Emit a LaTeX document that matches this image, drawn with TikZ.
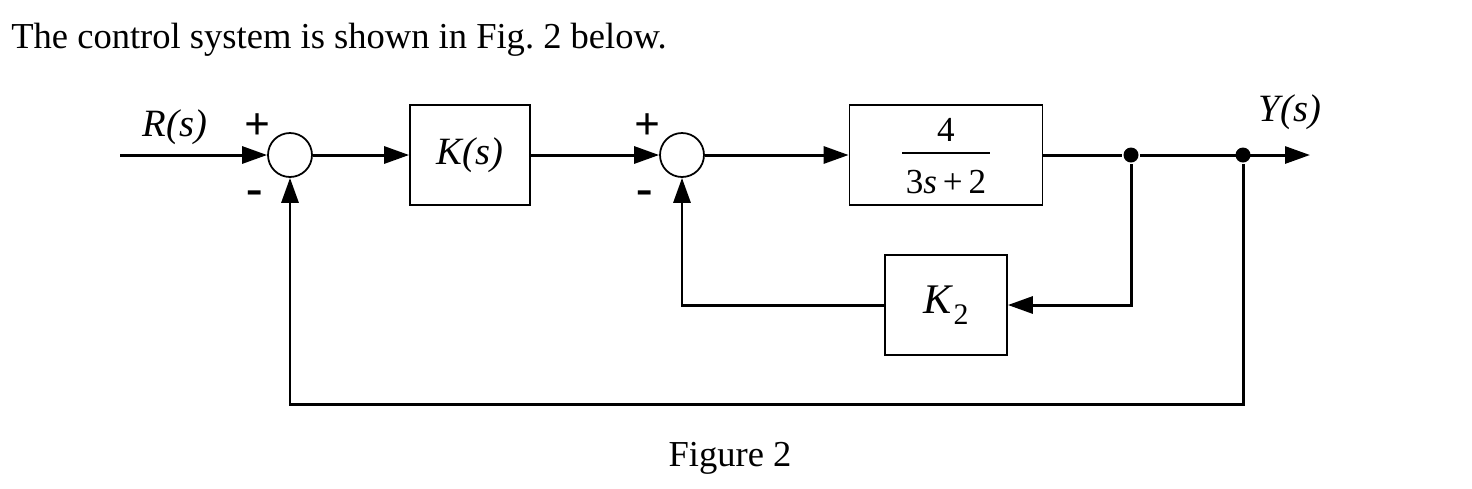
\documentclass[tikz,border=0pt]{standalone}
\usepackage{fontspec}
\setmainfont{Liberation Serif}
\usetikzlibrary{arrows.meta}
\begin{document}
\begin{tikzpicture}[x=0.02cm,y=-0.02cm,
  line width=1.7pt,
  arr/.style={-{Triangle[length=0.5cm,width=0.34cm]}},
  blk/.style={draw,line width=1pt,minimum width=#1},
  sum/.style={draw,line width=1pt,circle,minimum size=0.88cm,inner sep=0pt},
  dot/.style={circle,fill,inner sep=0pt,minimum size=0.3cm},
  txt/.style={font=\fontsize{20.8}{24}\selectfont}]
\useasboundingbox (0,0) rectangle (1472,488);
\node[txt,anchor=west] (title) at (4,40) {The control system is shown in Fig.\ 2 below.};
\coordinate (in) at (120,155);
\node[sum] (s1) at (290,155) {};
\node[sum] (s2) at (682,155) {};
\node[blk=2.4cm,minimum height=2cm] (K) at (470,155) {};
\node[font=\fontsize{22}{24}\selectfont\itshape] at (K) {K(s)};
\node[blk=3.86cm,minimum height=2cm] (G) at (946,155) {};
\node[font=\fontsize{20}{22}\selectfont] (num) at (946,130) {4};
\node[font=\fontsize{20}{22}\selectfont] (den) at (946,182) {3\textit{s}\,+\,2};
\draw[line width=0.8pt] (902,153) -- (990,153);
\node[blk=2.44cm,minimum height=2cm] (K2) at (946,305) {};
\node[font=\fontsize{24}{24}\selectfont] at (K2) {\textit{K}\raisebox{-6pt}{\fontsize{17}{18}\selectfont 2}};
\node[dot] (d1) at (1131,155) {};
\node[dot] (d2) at (1243,155) {};
\coordinate (out) at (1310,155);
\draw[arr] (in) -- (s1.west);
\draw[arr] (s1.east) -- (K.west);
\draw[arr] (K.east) -- (s2.west);
\draw[arr] (s2.east) -- (G.west);
\draw (G.east) -- (d1);
\draw[arr] (d1) -- (out);
\draw[arr] (d1) |- (K2.east);
\draw[arr] (K2.west) -| (s2.south);
\draw[arr] (d2) |- (290,404) -- (s1.south);
\node[font=\fontsize{22}{24}\selectfont\itshape] at (175,127) {R(s)};
\node[font=\fontsize{22}{24}\selectfont\itshape] at (1290,112) {Y(s)};
\node[font=\fontsize{26}{24}\selectfont\bfseries] at (258,127) {+};
\node[font=\fontsize{28}{24}\selectfont\bfseries] at (255,198) {-};
\node[font=\fontsize{26}{24}\selectfont\bfseries] at (648,127) {+};
\node[font=\fontsize{28}{24}\selectfont\bfseries] at (645,198) {-};
\node[txt] (fig) at (730,458) {Figure 2};
\end{tikzpicture}
\end{document}
